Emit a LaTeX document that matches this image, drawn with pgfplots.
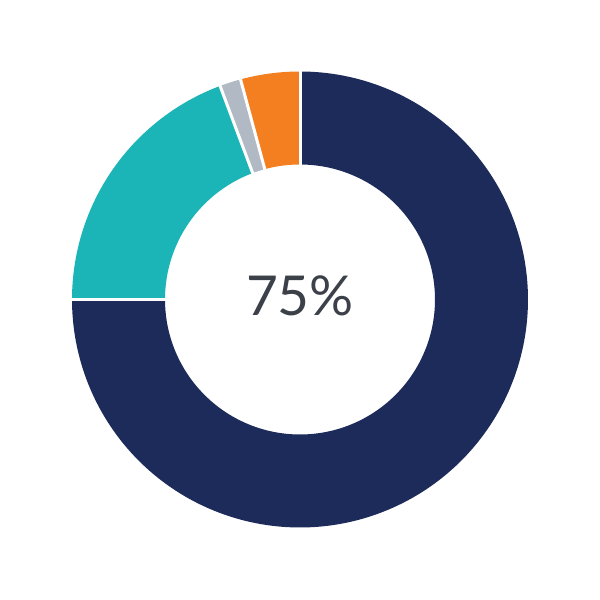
\documentclass[border=0pt]{standalone}
\usepackage{pgfplots}
\pgfplotsset{compat=1.18}
\usepackage{fontspec}
\setmainfont{Lato}
\definecolor{cnavy}{HTML}{1C2B5A}
\definecolor{cteal}{HTML}{1BB5B8}
\definecolor{cgray}{HTML}{B1B9C5}
\definecolor{corange}{HTML}{F47F20}
\definecolor{ctext}{HTML}{3B4049}
% shares in percent
\def\vA{75}\def\vB{19.3}\def\vC{1.5}\def\vD{4.2}
\begin{document}
\begin{tikzpicture}
\pgfmathsetmacro\aA{90}
\pgfmathsetmacro\aB{\aA-3.6*\vA}
\pgfmathsetmacro\aC{\aB-3.6*\vB}
\pgfmathsetmacro\aD{\aC-3.6*\vC}
\pgfmathsetmacro\aE{\aD-3.6*\vD}
\begin{axis}[scale only axis, width=600pt, height=600pt,
  xmin=-300, xmax=300, ymin=-300.5, ymax=299.5, hide axis, clip=false]
\path (axis cs:-300,-300.5) rectangle (axis cs:300,299.5);
\addplot[data cs=polar, cnavy, line width=93pt, domain=\aA:\aB, samples=200] {181.5};
\addplot[data cs=polar, cteal, line width=93pt, domain=\aB:\aC, samples=80] {181.5};
\addplot[data cs=polar, cgray, line width=93pt, domain=\aC:\aD, samples=10] {181.5};
\addplot[data cs=polar, corange, line width=93pt, domain=\aD:\aE, samples=20] {181.5};
\foreach \a in {\aA,\aB,\aC,\aD} {
  \addplot[data cs=polar, white, line width=3pt] coordinates {(\a,130) (\a,235)};
}
\node[anchor=base, text=ctext, font=\fontsize{55}{60}\selectfont] at (axis cs:0,-16) {75\%};
\end{axis}
\end{tikzpicture}
\end{document}
